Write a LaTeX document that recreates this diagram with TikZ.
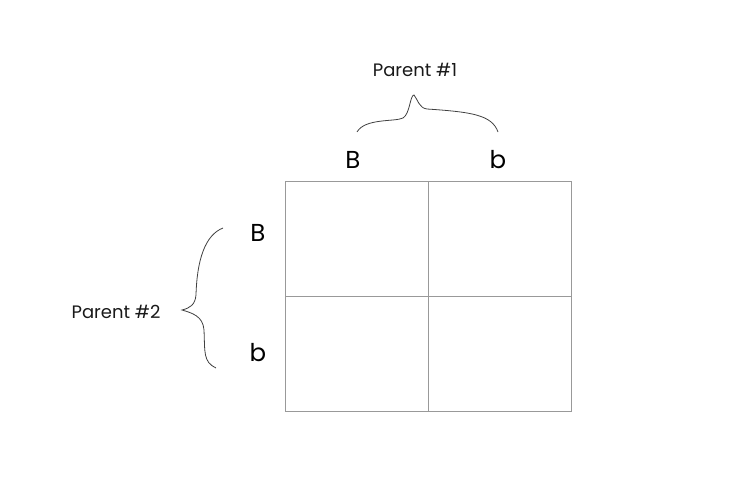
\documentclass[tikz,border=0pt]{standalone}
\usepackage{fontspec}
\setmainfont{Poppins}
\begin{document}
\begin{tikzpicture}[x=1pt,y=-1pt,
  gridline/.style={draw=black!40,line width=0.9pt},
  bracel/.style={draw=black!75,line width=0.8pt},
  lbl/.style={font=\fontsize{18}{21}\selectfont,text=black!90,inner sep=0pt},
  allele/.style={font=\fontsize{24.5}{28}\selectfont,text=black,inner sep=0pt}]
\useasboundingbox (0,0) rectangle (736,487);
% grid
\draw[gridline] (285,181) rectangle (571,411);
\draw[gridline] (428,181) -- (428,411);
\draw[gridline] (285,296) -- (571,296);
% labels
\node[lbl] (p1) at (415,70) {Parent \#1};
\node[lbl] (p2) at (116,312) {Parent \#2};
\node[allele] (tB) at (353,160) {B};
\node[allele] (tb) at (498,160) {b};
\node[allele] (lB) at (258,233) {B};
\node[allele] (lb) at (258,353) {b};
% braces
\coordinate (t1) at (357,132);
\coordinate (t2) at (498,132);
\coordinate (l1) at (223,228);
\coordinate (l2) at (216,368);
\draw[bracel] (t1) .. controls (365,118) and (395,122) .. (403,118)
  .. controls (410,114) and (410,95) .. (414,95)
  .. controls (418,100) and (419,108) .. (427,109)
  .. controls (472,112) and (492,115) .. (t2);
\draw[bracel] (l1) .. controls (205,235) and (197,260) .. (196,295)
  .. controls (195,305) and (190,308) .. (182,310)
  .. controls (192,313) and (203,316) .. (204,330)
  .. controls (205,352) and (203,362) .. (l2);
\end{tikzpicture}
\end{document}
